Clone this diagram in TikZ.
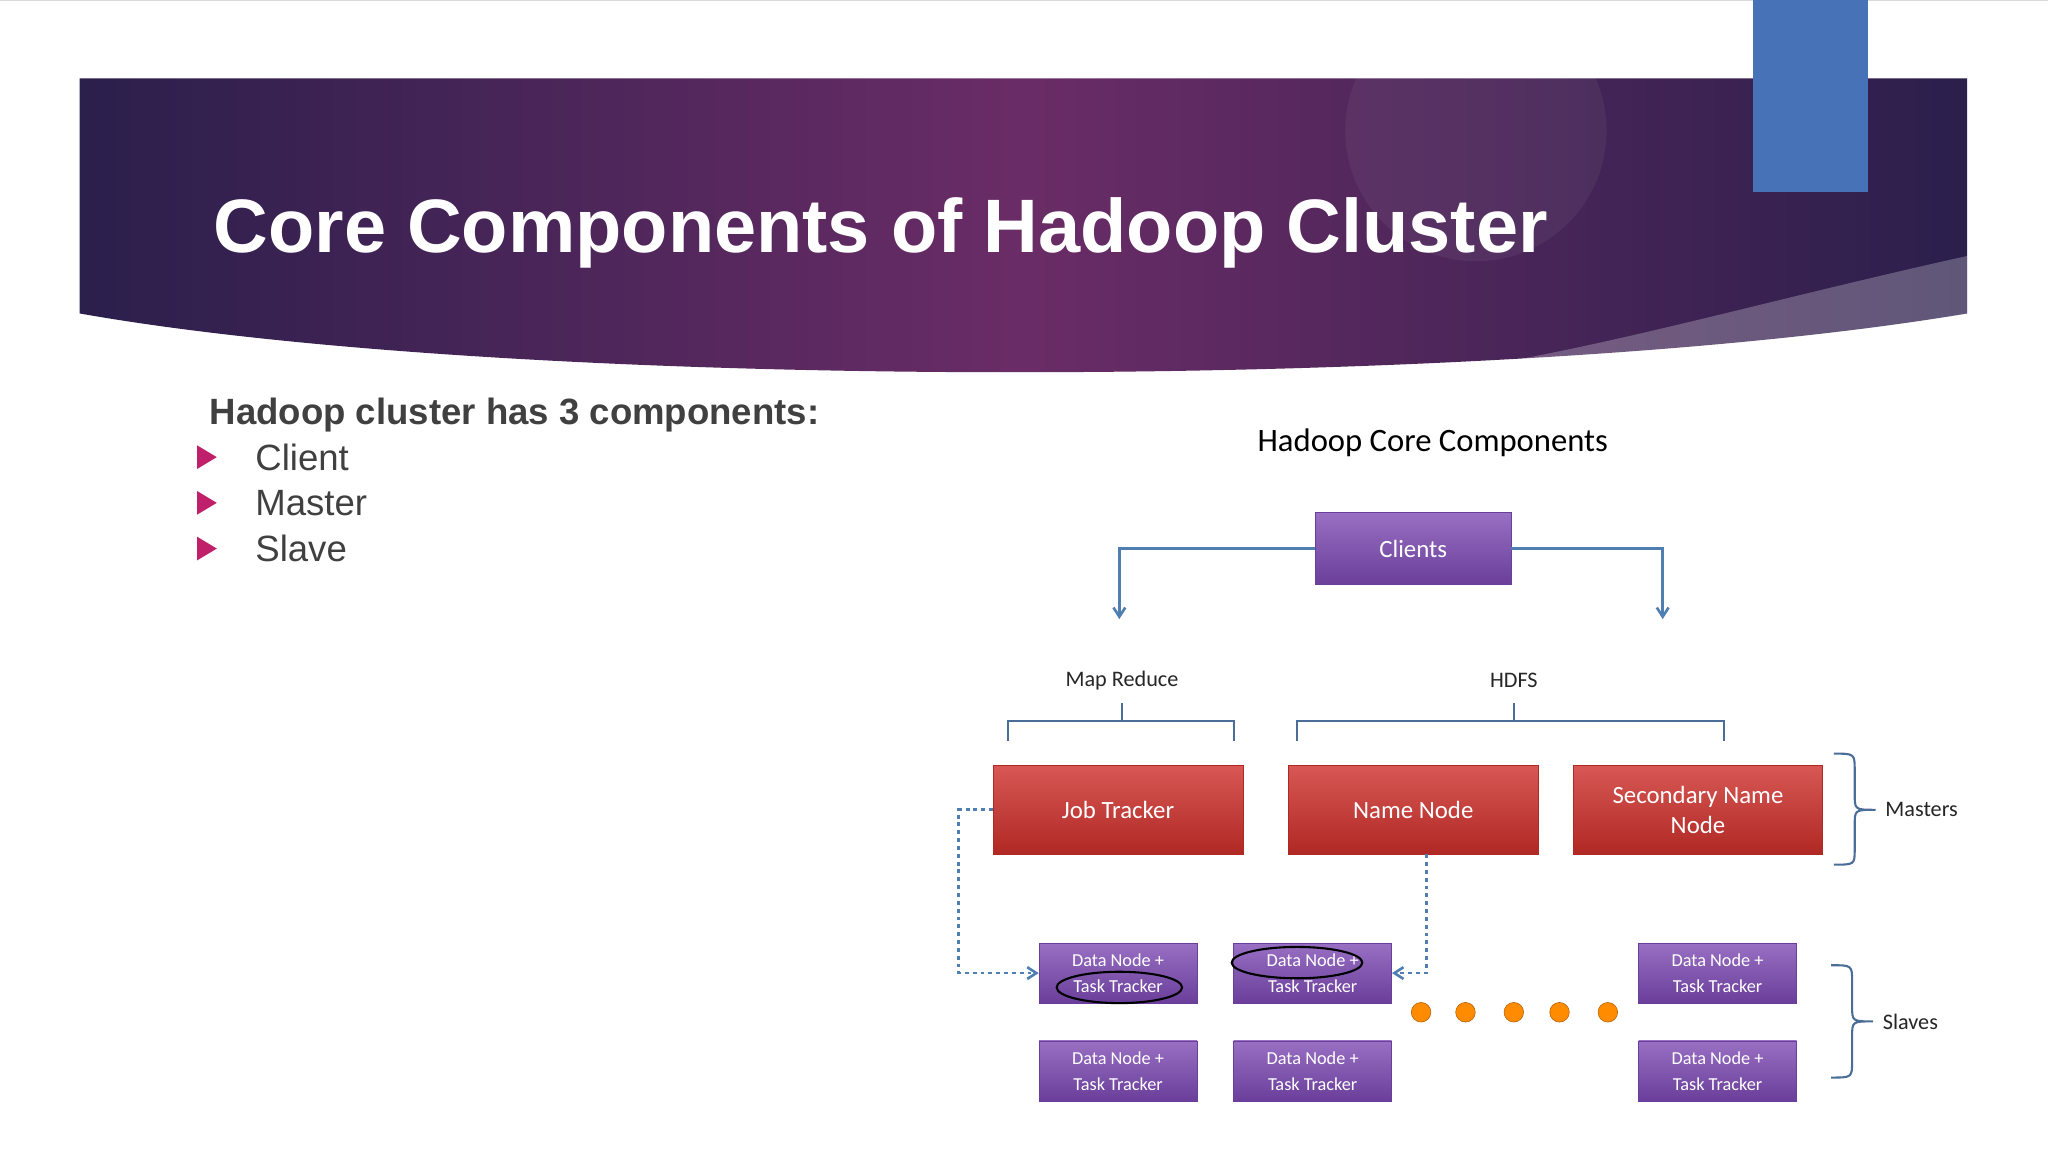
\documentclass[tikz,border=0pt]{standalone}
\usepackage{fontspec}
\setmainfont{Liberation Sans}
\newfontfamily\carl{Carlito}
\usetikzlibrary{decorations.pathreplacing,arrows.meta,calc}
\definecolor{bandA}{HTML}{2B1F4C}
\definecolor{bandB}{HTML}{6A2C66}
\definecolor{pbox}{HTML}{8656B8}
\definecolor{pboxd}{HTML}{6A3E9A}
\definecolor{rbox}{HTML}{D03A36}
\definecolor{rboxd}{HTML}{B02824}
\definecolor{conn}{HTML}{4F7FB0}
\definecolor{brc}{HTML}{4A6E98}
\definecolor{bul}{HTML}{C0206A}
\tikzset{
 bigp/.style={draw=pboxd,top color=pbox!85!white,bottom color=pboxd,text=white,font=\carl\fontsize{19}{21}\selectfont,minimum width=150pt,minimum height=55pt},
 redb/.style={draw=rboxd,top color=rbox!85!white,bottom color=rboxd,text=white,font=\carl\fontsize{19}{23}\selectfont,minimum width=191pt,minimum height=68pt,align=center},
 smallp/.style={draw=pboxd,top color=pbox!85!white,bottom color=pboxd,text=white,font=\carl\fontsize{14}{20}\selectfont,minimum width=121pt,minimum height=46pt,align=center,inner sep=0pt},
 lab/.style={font=\carl\fontsize{17}{19}\selectfont,text=black!85},
 con/.style={draw=conn,line width=2pt,-{Straight Barb[length=7pt,width=9pt]}},
 dcon/.style={draw=conn,line width=2pt,dashed,-{Straight Barb[length=7pt,width=9pt]}},
 brk/.style={draw=brc,line width=1.6pt},
 dot/.style={circle,fill=orange!90!yellow,draw=orange!70!black,minimum size=15pt,inner sep=0pt},
}
\begin{document}
\begin{tikzpicture}[x=1pt,y=-1pt]
\useasboundingbox (0,0) rectangle (1568,882);
\fill[white] (0,0) rectangle (1568,882);
\draw[black!15] (0,0.5) -- (1568,0.5);
% banner
\shade[left color=bandA,right color=bandA,middle color=bandB] (61,60) -- (1506,60) -- (1506,240) .. controls (1150,300) and (400,300) .. (61,240) -- cycle;
\fill[white,opacity=0.25] (1506,196) .. controls (1330,235) and (1200,275) .. (1070,289) .. controls (1250,280) and (1400,260) .. (1506,240) -- cycle;
\fill[white,opacity=0.05] (1130,100) circle (100);
\fill[conn!90!blue] (1342,0) rectangle (1430,147);
\node[anchor=base west,text=white,font=\bfseries\fontsize{58}{60}\selectfont] (title) at (160,193) {Core Components of Hadoop Cluster};
% left text
\node[anchor=base west,text=black!75,font=\bfseries\fontsize{28}{30}\selectfont] (h) at (157,325) {Hadoop cluster has 3 components:};
\foreach \t/\yy/\n in {Client/360/a,Master/395/b,Slave/430/c}{
 \fill[bul] (151,\yy-19) -- (166,\yy-10) -- (151,\yy-1) -- cycle;
 \node[anchor=base west,text=black!75,font=\fontsize{28}{30}\selectfont] (it\n) at (192,\yy) {\t};
}
% diagram
\node[font=\carl\fontsize{25}{27}\selectfont] (dt) at (1097,339) {Hadoop Core Components};
\node[bigp] (cl) at (1082,420) {Clients};
\coordinate (l1) at (857,474); \coordinate (r1) at (1273,474);
\draw[con] (cl.west) -| (l1);
\draw[con] (cl.east) -| (r1);
\node[lab] (mr) at (859,521) {Map Reduce};
\node[lab] (hd) at (1159,521) {HDFS};
\draw[brk] (772,567) -- (772,552) -- (945,552) -- (945,567) (859,552) -- (859,538);
\draw[brk] (993,567) -- (993,552) -- (1320,552) -- (1320,567) (1159,552) -- (1159,538);
\node[redb] (jt) at (856,620) {Job Tracker};
\node[redb] (nn) at (1082,620) {Name Node};
\node[redb] (sn) at (1300,620) {Secondary Name\\Node};
\draw[brk] (1404,577) .. controls (1420,577) .. (1420,590) -- (1420,608) .. controls (1420,620) .. (1436,620) .. controls (1420,620) .. (1420,632) -- (1420,650) .. controls (1420,662) .. (1404,662);
\node[lab,anchor=west] (ma) at (1440,620) {Masters};
\node[smallp] (s1) at (856,745) {Data Node +\\Task Tracker};
\node[smallp] (s2) at (1005,745) {Data Node +\\Task Tracker};
\node[smallp] (s3) at (1315,745) {Data Node +\\Task Tracker};
\node[smallp] (s4) at (856,820) {Data Node +\\Task Tracker};
\node[smallp] (s5) at (1005,820) {Data Node +\\Task Tracker};
\node[smallp] (s6) at (1315,820) {Data Node +\\Task Tracker};
\draw[black,line width=1.6pt] (857,756) ellipse (48 and 12);
\draw[black,line width=1.6pt] (993,737) ellipse (50 and 12);
\coordinate (jc) at (734,620);
\draw[dcon] (jt.west) -- (jc) |- (s1.west);
\draw[dcon] (1092,654) |- (s2.east);
\foreach \x/\n in {1088/a,1122/b,1159/c,1194/d,1231/e}{\node[dot] (d\n) at (\x,775) {};}
\draw[brk] (1402,739) .. controls (1418,739) .. (1418,752) -- (1418,770) .. controls (1418,782) .. (1434,782) .. controls (1418,782) .. (1418,794) -- (1418,812) .. controls (1418,825) .. (1402,825);
\node[lab,anchor=west] (sl) at (1438,782) {Slaves};
\end{tikzpicture}
\end{document}
